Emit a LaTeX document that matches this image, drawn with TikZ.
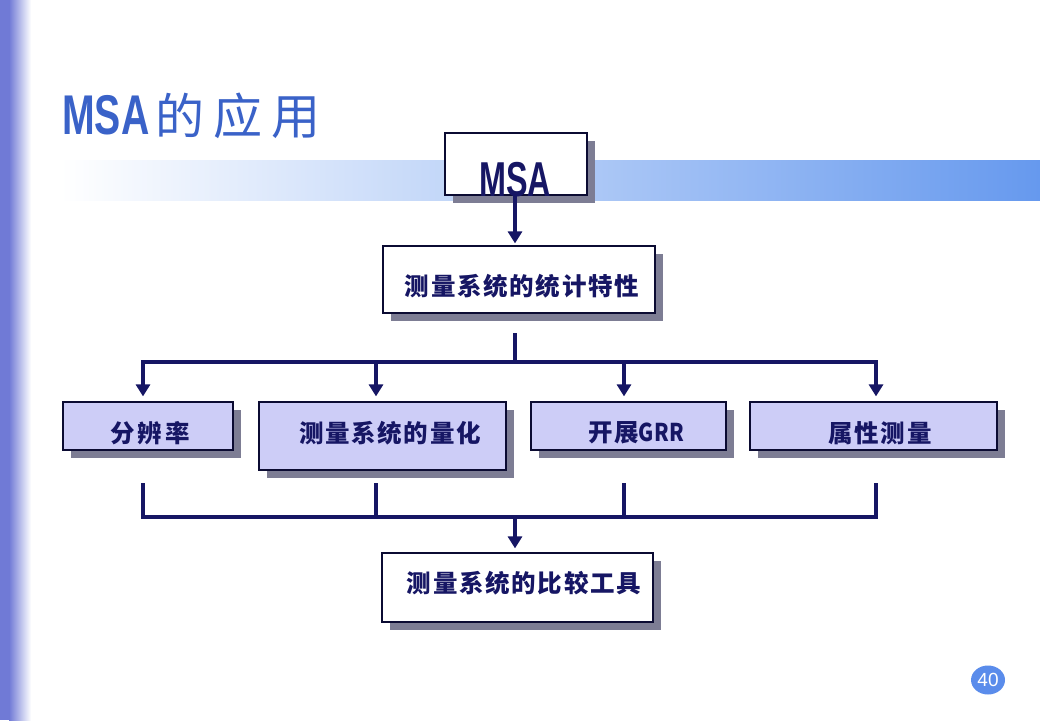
\documentclass[tikz,border=0pt]{standalone}
\usepackage{fontspec}
\usetikzlibrary{arrows.meta,shapes.geometric,calc}
\newfontfamily\cjkfont{Noto Sans CJK SC}
\newfontfamily\cjkwide{Noto Sans CJK SC}[LetterSpace=7]
\newfontfamily\latinfont{Liberation Sans}
\definecolor{barc}{RGB}{112,122,214}
\definecolor{bandc}{RGB}{102,153,238}
\definecolor{titlec}{RGB}{58,98,200}
\definecolor{navy}{RGB}{22,22,100}
\definecolor{lav}{RGB}{205,205,247}
\definecolor{shadowc}{RGB}{125,125,148}
\definecolor{pagec}{RGB}{90,140,235}
\tikzset{
  shadowed/.style={preaction={fill=shadowc, transform canvas={shift={(8pt,-8pt)}}}},
  wbox/.style={draw=navy!50!black, line width=1.2pt, fill=white, shadowed, inner sep=0pt},
  lbox/.style={wbox, fill=lav},
  btxt/.style={font=\cjkwide\bfseries\fontsize{24.5}{24.5}\selectfont, text=navy, inner sep=0pt},
  conn/.style={draw=navy, line width=4pt},
  arr/.style={conn, -{Triangle[width=14pt,length=12pt]}},
}
\begin{document}
\begin{tikzpicture}[x=1pt,y=-1pt]
\useasboundingbox (0,0) rectangle (1040,720);
\fill[white] (0,0) rectangle (1040,720);
% left bar
\fill[barc] (0,0) rectangle (9,720);
\shade[left color=barc,right color=white] (9,0) rectangle (31,720);
% band
\shade[left color=white,right color=bandc] (60,160) rectangle (1040,200);
% title
\node[anchor=base west, inner sep=0pt, text=titlec] (title) at (62,134)
  {\scalebox{0.7}[1]{\latinfont\bfseries\fontsize{56}{56}\selectfont MSA}\hspace{6pt}{\cjkfont\fontsize{49}{49}\selectfont 的\hspace{9pt}应\hspace{9pt}用}};

% coordinates for connectors
\coordinate (j0) at (515,333);
\coordinate (j1) at (515,362);
\coordinate (a1) at (143,362);
\coordinate (a2) at (376,362);
\coordinate (a3) at (624,362);
\coordinate (a4) at (876,362);
\coordinate (e1) at (143,483);
\coordinate (e2) at (376,483);
\coordinate (e3) at (624,483);
\coordinate (e4) at (876,483);
\coordinate (d1) at (143,517);
\coordinate (d2) at (376,517);
\coordinate (d3) at (624,517);
\coordinate (d4) at (876,517);
\coordinate (dj) at (515,517);

% boxes
\node[wbox, minimum width=142pt, minimum height=62pt] (msa) at (516,164) {};
\node[wbox, minimum width=272pt, minimum height=67pt] (stat) at (519,279.5) {};
\node[lbox, minimum width=170pt, minimum height=48pt] (r1) at (148,426) {};
\node[lbox, minimum width=247pt, minimum height=68pt] (r2) at (382.5,436) {};
\node[lbox, minimum width=195pt, minimum height=48pt] (r3) at (628.5,426) {};
\node[lbox, minimum width=247pt, minimum height=48pt] (r4) at (873.5,426) {};
\node[wbox, minimum width=271pt, minimum height=69pt] (cmp) at (517.5,587.5) {};

% texts
\node[inner sep=0pt, text=navy] (msat) at (515,180) {\scalebox{0.66}[1]{\latinfont\bfseries\fontsize{49}{49}\selectfont MSA}};
\node[btxt] (statt) at (522,286) {测量系统的统计特性};
\node[btxt] (r1t) at (150,433) {分\hspace{3pt}辨\hspace{3pt}率};
\node[btxt] (r2t) at (390,433) {测量系统的量化};
\node[btxt] (r3t) at (636,433) {开展\scalebox{0.85}[1]{\cjkfont\bfseries GRR}};
\node[btxt] (r4t) at (880,433) {属性测量};
\node[btxt] (cmpt) at (524,583) {测量系统的比较工具};

% connectors
\draw[arr, shorten >=2pt] (msa.south -| j0) -- (j0 |- stat.north);
\draw[conn] (j0) -- (j1);
\draw[conn, line cap=rect] (a1) -- (a4);
\draw[arr, shorten >=5pt] (a1) -- (a1 |- r1.north);
\draw[arr, shorten >=5pt] (a2) -- (a2 |- r2.north);
\draw[arr, shorten >=5pt] (a3) -- (a3 |- r3.north);
\draw[arr, shorten >=5pt] (a4) -- (a4 |- r4.north);
\draw[conn] (e1) -- (d1);
\draw[conn] (e2) -- (d2);
\draw[conn] (e3) -- (d3);
\draw[conn] (e4) -- (d4);
\draw[conn, line cap=rect] (d1) -- (d4);
\draw[arr, shorten >=4pt] (dj) -- (dj |- cmp.north);

% page number
\node[ellipse, fill=pagec, minimum width=34pt, minimum height=29pt, inner sep=0pt, text=white, font=\latinfont\fontsize{19}{19}\selectfont] (pg) at (988,680) {40};
\end{tikzpicture}
\end{document}
